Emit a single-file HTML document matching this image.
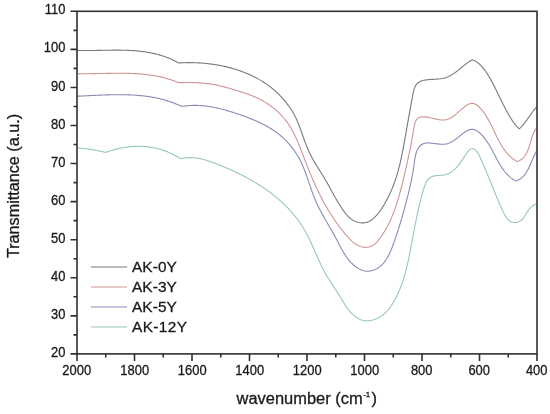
<!DOCTYPE html>
<html><head><meta charset="utf-8"><title>FTIR</title><style>html,body{margin:0;padding:0;background:#fff;}svg{display:block;}</style></head><body>
<svg width="550" height="414" viewBox="0 0 550 414" font-family="'Liberation Sans', Arial, sans-serif" fill="#1a1a1a"><style>text{stroke:#1a1a1a;stroke-width:0.3;}</style>
<path d="M77.00,147.80 L78.00,147.90 L79.00,148.00 L80.00,148.10 L81.00,148.21 L82.00,148.32 L83.00,148.44 L84.00,148.57 L85.00,148.69 L86.00,148.82 L87.00,148.96 L87.99,149.10 L88.99,149.24 L89.98,149.39 L90.98,149.55 L91.97,149.70 L92.97,149.87 L93.96,150.03 L94.95,150.21 L95.94,150.38 L96.93,150.56 L97.92,150.75 L98.91,150.94 L99.90,151.13 L100.88,151.33 L101.87,151.54 L102.85,151.75 L103.84,151.96 L104.82,152.18 L105.80,152.40 L106.75,152.05 L107.69,151.71 L108.65,151.39 L109.60,151.07 L110.56,150.76 L111.53,150.46 L112.49,150.17 L113.46,149.89 L114.43,149.62 L115.41,149.36 L116.39,149.10 L117.36,148.86 L118.35,148.63 L119.33,148.41 L120.32,148.20 L121.30,148.01 L122.29,147.82 L123.28,147.64 L124.28,147.47 L125.27,147.31 L126.27,147.17 L127.26,147.03 L128.26,146.91 L129.26,146.80 L130.26,146.70 L131.26,146.61 L132.25,146.53 L133.25,146.46 L134.25,146.40 L135.25,146.36 L136.25,146.33 L137.25,146.31 L138.25,146.30 L139.25,146.30 L140.25,146.32 L141.24,146.34 L142.24,146.38 L143.23,146.43 L144.23,146.50 L145.22,146.57 L146.21,146.66 L147.20,146.76 L148.18,146.88 L149.17,147.00 L150.15,147.14 L151.13,147.30 L152.11,147.46 L153.09,147.64 L154.06,147.83 L155.03,148.03 L156.00,148.25 L156.96,148.48 L157.93,148.72 L158.88,148.98 L159.84,149.24 L160.79,149.52 L161.74,149.81 L162.69,150.12 L163.63,150.44 L164.57,150.77 L165.50,151.11 L166.43,151.46 L167.36,151.83 L168.28,152.21 L169.20,152.60 L170.11,153.00 L171.02,153.42 L171.93,153.85 L172.83,154.29 L173.72,154.74 L174.61,155.21 L175.50,155.69 L176.38,156.17 L177.25,156.68 L178.12,157.19 L178.99,157.72 L179.85,158.25 L180.70,158.80 L181.74,158.55 L182.77,158.33 L183.80,158.14 L184.83,157.98 L185.85,157.85 L186.86,157.75 L187.87,157.68 L188.87,157.63 L189.87,157.60 L190.87,157.61 L191.86,157.63 L192.84,157.68 L193.82,157.75 L194.80,157.84 L195.78,157.96 L196.75,158.09 L197.72,158.24 L198.68,158.41 L199.64,158.59 L200.60,158.80 L201.56,159.01 L202.51,159.25 L203.46,159.49 L204.41,159.75 L205.35,160.02 L206.30,160.31 L207.24,160.60 L208.18,160.90 L209.12,161.22 L210.06,161.54 L210.99,161.86 L211.93,162.20 L212.86,162.53 L213.80,162.88 L214.73,163.22 L215.66,163.57 L216.59,163.93 L217.52,164.29 L218.45,164.65 L219.38,165.01 L220.31,165.38 L221.24,165.75 L222.17,166.13 L223.09,166.50 L224.02,166.89 L224.94,167.27 L225.86,167.66 L226.79,168.05 L227.71,168.45 L228.63,168.85 L229.54,169.26 L230.46,169.66 L231.37,170.08 L232.29,170.49 L233.20,170.91 L234.11,171.33 L235.02,171.76 L235.93,172.19 L236.83,172.62 L237.74,173.06 L238.64,173.50 L239.54,173.95 L240.44,174.40 L241.34,174.85 L242.23,175.31 L243.13,175.77 L244.02,176.24 L244.91,176.71 L245.79,177.18 L246.68,177.66 L247.56,178.14 L248.44,178.62 L249.32,179.11 L250.19,179.61 L251.07,180.10 L251.94,180.60 L252.81,181.11 L253.67,181.62 L254.54,182.13 L255.40,182.65 L256.25,183.17 L257.11,183.70 L257.96,184.23 L258.81,184.77 L259.66,185.30 L260.50,185.85 L261.34,186.40 L262.18,186.95 L263.01,187.50 L263.84,188.07 L264.66,188.63 L265.49,189.20 L266.31,189.77 L267.12,190.35 L267.93,190.94 L268.74,191.52 L269.55,192.12 L270.35,192.71 L271.14,193.31 L271.94,193.92 L272.73,194.53 L273.51,195.14 L274.29,195.76 L275.06,196.39 L275.84,197.02 L276.60,197.65 L277.36,198.29 L278.12,198.93 L278.87,199.58 L279.62,200.23 L280.36,200.89 L281.10,201.55 L281.84,202.22 L282.56,202.89 L283.29,203.57 L284.01,204.25 L284.72,204.94 L285.42,205.63 L286.13,206.33 L286.82,207.03 L287.51,207.74 L288.20,208.45 L288.88,209.17 L289.55,209.89 L290.22,210.62 L290.88,211.35 L291.54,212.09 L292.19,212.83 L292.83,213.58 L293.47,214.34 L294.10,215.09 L294.73,215.86 L295.35,216.63 L295.96,217.40 L296.57,218.18 L297.17,218.97 L297.76,219.76 L298.34,220.55 L298.92,221.36 L299.50,222.16 L300.06,222.98 L300.62,223.79 L301.17,224.62 L301.72,225.45 L302.25,226.28 L302.78,227.12 L303.31,227.97 L303.82,228.82 L304.33,229.68 L304.83,230.54 L305.32,231.41 L305.81,232.28 L306.29,233.16 L306.76,234.04 L307.23,234.93 L307.69,235.82 L308.14,236.72 L308.59,237.62 L309.04,238.52 L309.48,239.43 L309.92,240.34 L310.35,241.25 L310.78,242.17 L311.21,243.09 L311.63,244.01 L312.05,244.93 L312.47,245.86 L312.88,246.78 L313.30,247.71 L313.71,248.64 L314.12,249.57 L314.53,250.50 L314.94,251.43 L315.35,252.36 L315.76,253.29 L316.17,254.22 L316.57,255.15 L316.99,256.08 L317.40,257.01 L317.81,257.94 L318.23,258.86 L318.64,259.79 L319.06,260.71 L319.48,261.63 L319.91,262.55 L320.34,263.47 L320.77,264.38 L321.20,265.29 L321.64,266.20 L322.09,267.10 L322.54,268.00 L322.99,268.90 L323.45,269.79 L323.91,270.68 L324.39,271.57 L324.86,272.44 L325.35,273.32 L325.84,274.19 L326.33,275.05 L326.83,275.91 L327.34,276.77 L327.86,277.62 L328.37,278.47 L328.90,279.31 L329.42,280.16 L329.95,280.99 L330.48,281.83 L331.02,282.67 L331.56,283.50 L332.09,284.33 L332.64,285.16 L333.18,285.99 L333.72,286.82 L334.26,287.65 L334.81,288.48 L335.35,289.31 L335.89,290.14 L336.43,290.97 L336.97,291.80 L337.51,292.64 L338.04,293.47 L338.58,294.31 L339.11,295.15 L339.63,295.99 L340.15,296.84 L340.67,297.69 L341.19,298.54 L341.70,299.39 L342.21,300.25 L342.73,301.10 L343.24,301.95 L343.77,302.81 L344.29,303.65 L344.83,304.50 L345.37,305.34 L345.92,306.17 L346.49,307.00 L347.06,307.82 L347.66,308.63 L348.26,309.43 L348.89,310.22 L349.53,311.00 L350.19,311.77 L350.88,312.53 L351.58,313.27 L352.31,314.00 L353.05,314.70 L353.82,315.38 L354.61,316.03 L355.42,316.66 L356.24,317.25 L357.09,317.81 L357.95,318.32 L358.83,318.80 L359.73,319.23 L360.65,319.61 L361.58,319.95 L362.53,320.23 L363.49,320.45 L364.47,320.62 L365.46,320.73 L366.46,320.78 L367.47,320.79 L368.48,320.74 L369.49,320.64 L370.50,320.50 L371.51,320.31 L372.50,320.08 L373.49,319.82 L374.46,319.51 L375.41,319.17 L376.35,318.80 L377.26,318.39 L378.15,317.95 L379.02,317.49 L379.87,316.99 L380.70,316.47 L381.51,315.92 L382.30,315.35 L383.07,314.75 L383.82,314.13 L384.55,313.48 L385.27,312.82 L385.97,312.13 L386.65,311.42 L387.32,310.70 L387.97,309.96 L388.60,309.20 L389.22,308.42 L389.83,307.63 L390.42,306.83 L391.00,306.01 L391.56,305.19 L392.11,304.35 L392.65,303.50 L393.18,302.64 L393.69,301.78 L394.20,300.91 L394.69,300.03 L395.17,299.15 L395.64,298.26 L396.11,297.37 L396.56,296.48 L397.00,295.58 L397.44,294.68 L397.86,293.77 L398.28,292.86 L398.69,291.94 L399.09,291.03 L399.48,290.11 L399.86,289.18 L400.23,288.25 L400.60,287.32 L400.96,286.39 L401.31,285.45 L401.65,284.51 L401.98,283.57 L402.31,282.62 L402.63,281.67 L402.95,280.72 L403.26,279.77 L403.56,278.81 L403.85,277.85 L404.14,276.89 L404.43,275.93 L404.70,274.96 L404.98,274.00 L405.24,273.03 L405.51,272.06 L405.76,271.09 L406.01,270.12 L406.26,269.14 L406.50,268.17 L406.74,267.19 L406.97,266.21 L407.20,265.23 L407.43,264.26 L407.65,263.27 L407.87,262.29 L408.09,261.31 L408.30,260.33 L408.51,259.35 L408.72,258.37 L408.92,257.38 L409.12,256.40 L409.32,255.42 L409.52,254.44 L409.71,253.45 L409.91,252.47 L410.10,251.49 L410.29,250.51 L410.48,249.53 L410.67,248.55 L410.86,247.57 L411.04,246.59 L411.23,245.61 L411.41,244.63 L411.60,243.66 L411.78,242.68 L411.96,241.70 L412.14,240.73 L412.33,239.75 L412.51,238.78 L412.69,237.80 L412.87,236.83 L413.06,235.85 L413.24,234.88 L413.42,233.90 L413.60,232.93 L413.79,231.96 L413.97,230.98 L414.15,230.01 L414.34,229.03 L414.53,228.06 L414.71,227.09 L414.90,226.11 L415.09,225.14 L415.28,224.16 L415.47,223.19 L415.67,222.22 L415.86,221.24 L416.06,220.27 L416.26,219.29 L416.46,218.32 L416.66,217.34 L416.86,216.36 L417.07,215.39 L417.27,214.41 L417.48,213.43 L417.70,212.46 L417.91,211.48 L418.13,210.50 L418.35,209.52 L418.57,208.54 L418.80,207.56 L419.02,206.58 L419.26,205.59 L419.49,204.61 L419.73,203.63 L419.97,202.64 L420.21,201.66 L420.46,200.67 L420.71,199.69 L420.97,198.70 L421.23,197.71 L421.49,196.72 L421.76,195.73 L422.03,194.74 L422.30,193.75 L422.58,192.75 L422.86,191.76 L423.15,190.76 L423.44,189.76 L423.74,188.77 L424.05,187.78 L424.37,186.80 L424.71,185.84 L425.07,184.90 L425.45,183.98 L425.85,183.08 L426.28,182.22 L426.75,181.40 L427.25,180.61 L427.79,179.88 L428.36,179.19 L428.99,178.55 L429.66,177.97 L430.38,177.46 L431.15,177.01 L431.98,176.63 L432.87,176.33 L433.80,176.09 L434.79,175.90 L435.81,175.75 L436.86,175.64 L437.93,175.55 L439.02,175.47 L440.11,175.39 L441.20,175.31 L442.28,175.19 L443.35,175.05 L444.40,174.87 L445.41,174.63 L446.39,174.34 L447.35,174.01 L448.27,173.62 L449.17,173.20 L450.04,172.73 L450.88,172.22 L451.70,171.68 L452.49,171.11 L453.26,170.50 L454.01,169.87 L454.73,169.21 L455.43,168.52 L456.12,167.82 L456.78,167.10 L457.43,166.37 L458.05,165.62 L458.67,164.86 L459.27,164.08 L459.85,163.30 L460.43,162.50 L461.01,161.69 L461.57,160.87 L462.14,160.04 L462.70,159.20 L463.27,158.35 L463.84,157.49 L464.41,156.63 L464.99,155.75 L465.58,154.86 L466.18,153.97 L466.80,153.08 L467.43,152.20 L468.08,151.36 L468.75,150.60 L469.44,149.92 L470.15,149.37 L470.88,148.96 L471.65,148.73 L472.43,148.69 L473.24,148.84 L474.04,149.15 L474.79,149.59 L475.51,150.13 L476.18,150.76 L476.81,151.47 L477.40,152.26 L477.96,153.11 L478.49,154.02 L479.00,154.96 L479.48,155.94 L479.95,156.94 L480.39,157.96 L480.83,158.98 L481.26,159.99 L481.69,160.98 L482.11,161.96 L482.53,162.92 L482.94,163.86 L483.35,164.80 L483.76,165.72 L484.17,166.64 L484.57,167.56 L484.96,168.47 L485.35,169.38 L485.74,170.28 L486.13,171.19 L486.51,172.10 L486.89,173.00 L487.27,173.90 L487.64,174.80 L488.02,175.70 L488.39,176.60 L488.76,177.50 L489.12,178.40 L489.49,179.30 L489.86,180.20 L490.22,181.10 L490.58,182.00 L490.95,182.90 L491.31,183.80 L491.67,184.70 L492.04,185.60 L492.40,186.50 L492.77,187.41 L493.13,188.31 L493.50,189.22 L493.87,190.13 L494.24,191.04 L494.61,191.96 L494.98,192.87 L495.36,193.79 L495.73,194.71 L496.11,195.63 L496.50,196.56 L496.88,197.48 L497.27,198.42 L497.67,199.35 L498.06,200.29 L498.46,201.23 L498.87,202.18 L499.28,203.12 L499.69,204.08 L500.11,205.04 L500.54,206.00 L500.97,206.96 L501.40,207.94 L501.84,208.91 L502.29,209.89 L502.74,210.88 L503.21,211.86 L503.68,212.83 L504.17,213.78 L504.67,214.72 L505.19,215.62 L505.73,216.50 L506.29,217.34 L506.88,218.14 L507.49,218.88 L508.12,219.57 L508.79,220.21 L509.49,220.77 L510.22,221.27 L510.99,221.68 L511.80,222.01 L512.65,222.26 L513.52,222.42 L514.42,222.49 L515.34,222.47 L516.26,222.37 L517.18,222.19 L518.08,221.93 L518.97,221.58 L519.83,221.15 L520.65,220.65 L521.43,220.06 L522.16,219.40 L522.85,218.68 L523.49,217.89 L524.10,217.06 L524.69,216.19 L525.26,215.29 L525.81,214.38 L526.36,213.45 L526.91,212.53 L527.47,211.62 L528.04,210.73 L528.63,209.87 L529.24,209.04 L529.89,208.27 L530.58,207.56 L531.31,206.92 L532.09,206.34 L532.90,205.80 L533.73,205.28 L534.56,204.76 L535.39,204.23 L536.21,203.64 L537.00,203.00" fill="none" stroke="#96c6be" stroke-width="1.1" stroke-linejoin="round"/>
<path d="M77.00,96.20 L77.99,96.16 L78.98,96.12 L79.97,96.08 L80.96,96.03 L81.96,95.99 L82.95,95.94 L83.95,95.90 L84.94,95.85 L85.94,95.80 L86.94,95.75 L87.94,95.71 L88.94,95.66 L89.95,95.61 L90.95,95.56 L91.95,95.51 L92.96,95.46 L93.96,95.42 L94.97,95.37 L95.98,95.32 L96.99,95.28 L97.99,95.23 L99.00,95.19 L100.01,95.15 L101.02,95.10 L102.03,95.06 L103.04,95.02 L104.06,94.99 L105.07,94.95 L106.08,94.92 L107.09,94.88 L108.10,94.85 L109.12,94.83 L110.13,94.80 L111.14,94.78 L112.15,94.75 L113.17,94.74 L114.18,94.72 L115.19,94.71 L116.21,94.69 L117.22,94.69 L118.23,94.68 L119.24,94.68 L120.25,94.68 L121.27,94.69 L122.28,94.70 L123.29,94.71 L124.30,94.73 L125.31,94.75 L126.32,94.77 L127.33,94.80 L128.34,94.83 L129.35,94.87 L130.35,94.91 L131.36,94.96 L132.37,95.01 L133.37,95.07 L134.37,95.13 L135.38,95.19 L136.38,95.26 L137.38,95.34 L138.38,95.42 L139.38,95.51 L140.38,95.60 L141.38,95.70 L142.38,95.80 L143.37,95.91 L144.37,96.03 L145.36,96.15 L146.35,96.28 L147.34,96.41 L148.33,96.56 L149.32,96.70 L150.31,96.86 L151.29,97.02 L152.27,97.19 L153.26,97.37 L154.24,97.55 L155.21,97.74 L156.19,97.94 L157.17,98.14 L158.14,98.36 L159.11,98.58 L160.08,98.80 L161.05,99.04 L162.02,99.29 L162.98,99.54 L163.94,99.80 L164.90,100.07 L165.86,100.35 L166.82,100.64 L167.77,100.93 L168.72,101.24 L169.67,101.55 L170.62,101.87 L171.57,102.21 L172.51,102.55 L173.45,102.90 L174.39,103.26 L175.32,103.63 L176.26,104.01 L177.19,104.40 L178.11,104.80 L179.04,105.21 L179.96,105.63 L180.88,106.06 L181.80,106.50 L182.82,106.33 L183.83,106.17 L184.84,106.03 L185.85,105.91 L186.86,105.80 L187.87,105.70 L188.87,105.61 L189.87,105.54 L190.87,105.48 L191.87,105.44 L192.87,105.41 L193.87,105.39 L194.86,105.38 L195.85,105.38 L196.84,105.40 L197.83,105.43 L198.82,105.47 L199.81,105.52 L200.79,105.58 L201.77,105.65 L202.76,105.73 L203.74,105.83 L204.72,105.93 L205.69,106.04 L206.67,106.17 L207.65,106.30 L208.62,106.44 L209.59,106.59 L210.57,106.75 L211.54,106.92 L212.51,107.09 L213.48,107.28 L214.45,107.47 L215.42,107.67 L216.38,107.88 L217.35,108.09 L218.32,108.32 L219.28,108.54 L220.25,108.78 L221.21,109.02 L222.17,109.27 L223.14,109.52 L224.10,109.78 L225.06,110.05 L226.02,110.32 L226.98,110.59 L227.94,110.88 L228.90,111.16 L229.86,111.45 L230.82,111.74 L231.78,112.04 L232.74,112.34 L233.70,112.65 L234.66,112.96 L235.62,113.27 L236.58,113.58 L237.54,113.90 L238.50,114.22 L239.46,114.55 L240.41,114.88 L241.37,115.21 L242.33,115.54 L243.28,115.88 L244.24,116.22 L245.19,116.57 L246.14,116.92 L247.09,117.27 L248.04,117.63 L248.98,118.00 L249.93,118.37 L250.87,118.74 L251.81,119.12 L252.74,119.50 L253.67,119.89 L254.60,120.29 L255.53,120.69 L256.45,121.10 L257.37,121.51 L258.29,121.93 L259.20,122.35 L260.11,122.78 L261.01,123.22 L261.91,123.66 L262.81,124.11 L263.70,124.57 L264.59,125.03 L265.47,125.50 L266.34,125.98 L267.21,126.46 L268.08,126.96 L268.94,127.46 L269.79,127.97 L270.64,128.48 L271.48,129.01 L272.32,129.54 L273.15,130.08 L273.97,130.63 L274.79,131.19 L275.60,131.75 L276.40,132.33 L277.19,132.91 L277.98,133.50 L278.76,134.11 L279.53,134.72 L280.30,135.34 L281.05,135.97 L281.80,136.61 L282.54,137.26 L283.27,137.92 L284.00,138.59 L284.71,139.28 L285.42,139.97 L286.11,140.67 L286.80,141.38 L287.48,142.10 L288.15,142.83 L288.80,143.57 L289.46,144.32 L290.10,145.08 L290.73,145.85 L291.35,146.62 L291.96,147.41 L292.57,148.20 L293.16,149.00 L293.74,149.81 L294.32,150.62 L294.88,151.44 L295.44,152.27 L295.98,153.11 L296.52,153.95 L297.04,154.80 L297.56,155.66 L298.07,156.52 L298.56,157.39 L299.05,158.26 L299.52,159.14 L299.98,160.03 L300.44,160.92 L300.88,161.81 L301.32,162.71 L301.74,163.62 L302.15,164.52 L302.56,165.44 L302.96,166.35 L303.35,167.27 L303.73,168.20 L304.10,169.13 L304.47,170.06 L304.83,170.99 L305.19,171.93 L305.54,172.86 L305.89,173.80 L306.23,174.75 L306.56,175.69 L306.90,176.64 L307.23,177.59 L307.56,178.53 L307.88,179.48 L308.21,180.43 L308.53,181.39 L308.85,182.34 L309.17,183.29 L309.49,184.24 L309.82,185.19 L310.14,186.14 L310.46,187.09 L310.79,188.04 L311.12,188.99 L311.45,189.94 L311.78,190.88 L312.12,191.83 L312.46,192.77 L312.80,193.71 L313.15,194.65 L313.51,195.58 L313.87,196.51 L314.24,197.44 L314.61,198.37 L314.99,199.29 L315.38,200.21 L315.77,201.12 L316.18,202.03 L316.59,202.94 L317.00,203.85 L317.43,204.75 L317.86,205.65 L318.30,206.54 L318.74,207.43 L319.19,208.33 L319.64,209.21 L320.10,210.10 L320.56,210.98 L321.03,211.86 L321.50,212.74 L321.98,213.62 L322.46,214.49 L322.94,215.37 L323.43,216.24 L323.92,217.11 L324.41,217.98 L324.90,218.85 L325.40,219.72 L325.90,220.59 L326.40,221.46 L326.90,222.32 L327.40,223.19 L327.90,224.06 L328.41,224.92 L328.91,225.79 L329.41,226.66 L329.92,227.52 L330.42,228.39 L330.92,229.26 L331.42,230.13 L331.92,231.00 L332.42,231.87 L332.91,232.75 L333.41,233.62 L333.90,234.50 L334.39,235.38 L334.87,236.26 L335.35,237.14 L335.83,238.02 L336.30,238.91 L336.77,239.80 L337.24,240.69 L337.71,241.58 L338.17,242.47 L338.63,243.37 L339.09,244.26 L339.56,245.15 L340.02,246.04 L340.49,246.92 L340.96,247.81 L341.44,248.69 L341.92,249.56 L342.41,250.44 L342.91,251.30 L343.41,252.16 L343.92,253.02 L344.44,253.86 L344.98,254.70 L345.52,255.53 L346.08,256.35 L346.64,257.17 L347.23,257.97 L347.82,258.76 L348.44,259.54 L349.07,260.31 L349.71,261.07 L350.38,261.81 L351.06,262.54 L351.77,263.26 L352.49,263.96 L353.24,264.64 L354.01,265.31 L354.80,265.97 L355.62,266.60 L356.46,267.22 L357.32,267.80 L358.20,268.36 L359.09,268.88 L360.01,269.36 L360.94,269.79 L361.88,270.18 L362.84,270.51 L363.81,270.78 L364.78,270.99 L365.77,271.14 L366.76,271.21 L367.75,271.22 L368.74,271.17 L369.73,271.06 L370.70,270.90 L371.67,270.69 L372.62,270.43 L373.56,270.12 L374.47,269.77 L375.36,269.39 L376.22,268.97 L377.05,268.52 L377.86,268.04 L378.65,267.52 L379.41,266.97 L380.15,266.39 L380.86,265.79 L381.56,265.15 L382.23,264.49 L382.88,263.80 L383.51,263.09 L384.13,262.36 L384.72,261.60 L385.29,260.82 L385.85,260.02 L386.39,259.20 L386.92,258.37 L387.43,257.51 L387.92,256.64 L388.40,255.75 L388.87,254.85 L389.32,253.94 L389.76,253.01 L390.19,252.08 L390.61,251.13 L391.02,250.17 L391.42,249.21 L391.81,248.24 L392.19,247.26 L392.56,246.28 L392.93,245.29 L393.29,244.30 L393.65,243.31 L394.00,242.32 L394.34,241.33 L394.68,240.34 L395.02,239.35 L395.36,238.37 L395.69,237.39 L396.02,236.41 L396.34,235.43 L396.67,234.45 L396.99,233.48 L397.31,232.51 L397.62,231.54 L397.93,230.57 L398.24,229.61 L398.55,228.64 L398.86,227.68 L399.16,226.72 L399.46,225.76 L399.76,224.81 L400.05,223.85 L400.34,222.90 L400.63,221.94 L400.92,220.99 L401.20,220.04 L401.49,219.09 L401.77,218.14 L402.05,217.20 L402.32,216.25 L402.60,215.30 L402.87,214.36 L403.14,213.41 L403.40,212.47 L403.67,211.53 L403.93,210.58 L404.19,209.64 L404.45,208.70 L404.71,207.75 L404.96,206.81 L405.22,205.87 L405.47,204.92 L405.72,203.98 L405.96,203.04 L406.21,202.09 L406.45,201.15 L406.69,200.21 L406.94,199.26 L407.17,198.31 L407.41,197.37 L407.65,196.42 L407.88,195.47 L408.11,194.52 L408.34,193.57 L408.57,192.62 L408.80,191.67 L409.03,190.71 L409.25,189.76 L409.47,188.80 L409.70,187.84 L409.92,186.88 L410.14,185.92 L410.35,184.95 L410.57,183.99 L410.78,183.02 L410.99,182.04 L411.20,181.06 L411.40,180.08 L411.61,179.09 L411.80,178.10 L412.00,177.10 L412.19,176.10 L412.38,175.09 L412.57,174.08 L412.75,173.06 L412.93,172.03 L413.10,171.00 L413.27,169.95 L413.44,168.91 L413.60,167.85 L413.76,166.78 L413.91,165.71 L414.06,164.62 L414.20,163.54 L414.35,162.45 L414.50,161.36 L414.66,160.27 L414.83,159.19 L415.01,158.11 L415.21,157.05 L415.43,156.00 L415.66,154.97 L415.93,153.96 L416.21,152.97 L416.53,152.00 L416.88,151.07 L417.27,150.16 L417.69,149.29 L418.16,148.46 L418.67,147.66 L419.22,146.91 L419.82,146.21 L420.45,145.57 L421.12,145.00 L421.82,144.49 L422.56,144.06 L423.32,143.71 L424.12,143.43 L424.94,143.22 L425.79,143.07 L426.66,142.97 L427.56,142.92 L428.48,142.92 L429.41,142.95 L430.36,143.02 L431.33,143.11 L432.31,143.22 L433.31,143.35 L434.31,143.49 L435.32,143.64 L436.34,143.78 L437.36,143.91 L438.39,144.04 L439.42,144.14 L440.45,144.22 L441.48,144.27 L442.50,144.29 L443.52,144.26 L444.53,144.19 L445.53,144.07 L446.52,143.88 L447.50,143.64 L448.46,143.33 L449.41,142.96 L450.36,142.54 L451.28,142.06 L452.20,141.55 L453.11,140.99 L454.01,140.40 L454.89,139.78 L455.77,139.14 L456.64,138.48 L457.50,137.81 L458.35,137.13 L459.20,136.44 L460.04,135.76 L460.87,135.08 L461.70,134.42 L462.52,133.78 L463.34,133.15 L464.15,132.56 L464.96,132.00 L465.76,131.48 L466.56,131.00 L467.36,130.57 L468.16,130.19 L468.96,129.87 L469.75,129.62 L470.55,129.44 L471.35,129.33 L472.14,129.30 L472.94,129.35 L473.74,129.49 L474.54,129.72 L475.33,130.03 L476.13,130.41 L476.92,130.86 L477.70,131.37 L478.48,131.93 L479.24,132.55 L480.00,133.21 L480.75,133.91 L481.48,134.64 L482.19,135.40 L482.89,136.18 L483.57,136.98 L484.24,137.79 L484.88,138.60 L485.50,139.43 L486.11,140.26 L486.71,141.10 L487.28,141.95 L487.85,142.80 L488.40,143.66 L488.94,144.53 L489.46,145.40 L489.98,146.28 L490.49,147.16 L490.99,148.05 L491.48,148.93 L491.96,149.83 L492.44,150.72 L492.92,151.61 L493.39,152.51 L493.86,153.41 L494.33,154.31 L494.80,155.21 L495.27,156.11 L495.74,157.00 L496.21,157.90 L496.68,158.79 L497.16,159.68 L497.64,160.57 L498.13,161.46 L498.63,162.34 L499.14,163.22 L499.65,164.09 L500.17,164.95 L500.70,165.81 L501.24,166.65 L501.79,167.49 L502.35,168.32 L502.92,169.14 L503.50,169.95 L504.10,170.74 L504.70,171.52 L505.33,172.29 L505.96,173.05 L506.62,173.78 L507.28,174.50 L507.97,175.21 L508.67,175.89 L509.38,176.56 L510.12,177.20 L510.87,177.83 L511.64,178.43 L512.43,179.01 L513.24,179.57 L514.07,180.11 L514.93,180.62 L515.80,181.10 L516.83,180.73 L517.81,180.31 L518.74,179.85 L519.63,179.33 L520.48,178.77 L521.28,178.16 L522.05,177.52 L522.78,176.83 L523.48,176.11 L524.14,175.36 L524.78,174.57 L525.38,173.76 L525.96,172.92 L526.51,172.05 L527.05,171.17 L527.56,170.26 L528.05,169.33 L528.52,168.39 L528.98,167.44 L529.43,166.48 L529.87,165.50 L530.29,164.53 L530.71,163.54 L531.13,162.56 L531.54,161.58 L531.96,160.60 L532.37,159.62 L532.79,158.66 L533.21,157.70 L533.64,156.76 L534.07,155.83 L534.52,154.92 L534.98,154.03 L535.46,153.16 L535.95,152.31 L536.47,151.49 L537.00,150.70" fill="none" stroke="#8a8ab8" stroke-width="1.1" stroke-linejoin="round"/>
<path d="M77.00,73.60 L77.98,73.62 L78.96,73.65 L79.94,73.66 L80.93,73.68 L81.91,73.69 L82.90,73.70 L83.89,73.71 L84.88,73.71 L85.87,73.71 L86.87,73.71 L87.86,73.70 L88.86,73.70 L89.86,73.69 L90.86,73.68 L91.86,73.67 L92.86,73.66 L93.87,73.64 L94.87,73.63 L95.88,73.61 L96.89,73.59 L97.89,73.57 L98.90,73.55 L99.91,73.53 L100.92,73.51 L101.93,73.49 L102.95,73.47 L103.96,73.45 L104.97,73.43 L105.99,73.41 L107.00,73.39 L108.02,73.38 L109.03,73.36 L110.05,73.34 L111.07,73.33 L112.09,73.31 L113.10,73.30 L114.12,73.29 L115.14,73.28 L116.16,73.27 L117.18,73.26 L118.19,73.26 L119.21,73.26 L120.23,73.26 L121.25,73.26 L122.27,73.27 L123.29,73.28 L124.30,73.29 L125.32,73.30 L126.34,73.32 L127.36,73.34 L128.37,73.37 L129.39,73.39 L130.40,73.43 L131.42,73.46 L132.43,73.50 L133.45,73.55 L134.46,73.60 L135.47,73.65 L136.49,73.71 L137.50,73.77 L138.51,73.84 L139.52,73.91 L140.52,73.99 L141.53,74.08 L142.54,74.17 L143.54,74.26 L144.55,74.36 L145.55,74.47 L146.55,74.58 L147.55,74.70 L148.55,74.83 L149.55,74.96 L150.54,75.10 L151.54,75.24 L152.53,75.40 L153.52,75.56 L154.51,75.73 L155.50,75.90 L156.49,76.08 L157.47,76.27 L158.46,76.47 L159.44,76.68 L160.42,76.89 L161.39,77.11 L162.37,77.34 L163.34,77.58 L164.31,77.83 L165.28,78.09 L166.25,78.35 L167.21,78.63 L168.18,78.91 L169.14,79.21 L170.09,79.51 L171.05,79.83 L172.00,80.15 L172.95,80.48 L173.90,80.83 L174.85,81.18 L175.79,81.54 L176.73,81.92 L177.67,82.30 L178.60,82.70 L179.59,82.67 L180.58,82.65 L181.57,82.62 L182.56,82.60 L183.56,82.59 L184.56,82.57 L185.55,82.56 L186.56,82.56 L187.56,82.55 L188.56,82.56 L189.56,82.56 L190.57,82.57 L191.57,82.59 L192.58,82.61 L193.59,82.64 L194.59,82.67 L195.60,82.70 L196.60,82.75 L197.61,82.79 L198.62,82.85 L199.62,82.91 L200.63,82.98 L201.63,83.05 L202.63,83.13 L203.64,83.22 L204.64,83.31 L205.63,83.42 L206.63,83.53 L207.63,83.64 L208.62,83.77 L209.61,83.90 L210.60,84.05 L211.59,84.20 L212.58,84.36 L213.56,84.53 L214.54,84.71 L215.52,84.89 L216.49,85.09 L217.47,85.29 L218.44,85.50 L219.41,85.71 L220.38,85.93 L221.34,86.16 L222.31,86.40 L223.27,86.64 L224.24,86.89 L225.20,87.14 L226.16,87.40 L227.12,87.66 L228.08,87.93 L229.04,88.20 L230.00,88.47 L230.95,88.75 L231.91,89.03 L232.87,89.32 L233.83,89.60 L234.79,89.89 L235.75,90.19 L236.70,90.48 L237.66,90.78 L238.62,91.08 L239.58,91.38 L240.54,91.68 L241.50,91.99 L242.45,92.30 L243.41,92.62 L244.36,92.94 L245.32,93.27 L246.27,93.60 L247.21,93.93 L248.16,94.28 L249.10,94.62 L250.05,94.98 L250.98,95.34 L251.92,95.71 L252.85,96.09 L253.78,96.48 L254.70,96.87 L255.62,97.27 L256.53,97.69 L257.44,98.11 L258.35,98.54 L259.25,98.98 L260.14,99.43 L261.03,99.90 L261.92,100.37 L262.79,100.85 L263.67,101.35 L264.53,101.86 L265.39,102.37 L266.24,102.90 L267.09,103.44 L267.92,103.98 L268.76,104.54 L269.58,105.11 L270.39,105.69 L271.20,106.28 L272.00,106.88 L272.80,107.48 L273.58,108.10 L274.36,108.73 L275.12,109.37 L275.88,110.01 L276.63,110.67 L277.38,111.34 L278.11,112.01 L278.83,112.70 L279.54,113.39 L280.25,114.10 L280.94,114.81 L281.62,115.53 L282.30,116.26 L282.96,117.00 L283.61,117.75 L284.25,118.51 L284.88,119.27 L285.50,120.05 L286.11,120.83 L286.71,121.62 L287.29,122.43 L287.87,123.23 L288.43,124.05 L288.98,124.88 L289.52,125.71 L290.05,126.55 L290.57,127.40 L291.08,128.25 L291.58,129.11 L292.06,129.98 L292.55,130.85 L293.02,131.73 L293.48,132.62 L293.94,133.51 L294.38,134.40 L294.83,135.30 L295.26,136.21 L295.69,137.12 L296.11,138.03 L296.52,138.95 L296.93,139.87 L297.33,140.80 L297.73,141.73 L298.12,142.66 L298.51,143.59 L298.89,144.53 L299.27,145.47 L299.65,146.41 L300.02,147.35 L300.39,148.29 L300.76,149.24 L301.13,150.18 L301.49,151.13 L301.85,152.08 L302.22,153.03 L302.58,153.97 L302.93,154.92 L303.29,155.87 L303.65,156.81 L304.01,157.76 L304.37,158.70 L304.73,159.64 L305.10,160.58 L305.46,161.52 L305.82,162.46 L306.19,163.40 L306.55,164.33 L306.92,165.27 L307.29,166.20 L307.66,167.13 L308.03,168.06 L308.40,168.99 L308.77,169.91 L309.15,170.84 L309.53,171.76 L309.91,172.68 L310.29,173.60 L310.67,174.52 L311.05,175.44 L311.44,176.36 L311.83,177.27 L312.22,178.19 L312.61,179.10 L313.00,180.01 L313.40,180.92 L313.80,181.83 L314.20,182.73 L314.61,183.64 L315.01,184.54 L315.42,185.44 L315.84,186.34 L316.25,187.24 L316.67,188.13 L317.09,189.03 L317.51,189.92 L317.94,190.82 L318.37,191.71 L318.80,192.59 L319.24,193.48 L319.68,194.37 L320.12,195.25 L320.57,196.13 L321.02,197.01 L321.47,197.89 L321.93,198.77 L322.39,199.65 L322.85,200.52 L323.32,201.39 L323.79,202.26 L324.27,203.13 L324.75,204.00 L325.23,204.86 L325.72,205.73 L326.21,206.59 L326.71,207.45 L327.21,208.31 L327.71,209.17 L328.22,210.02 L328.74,210.87 L329.25,211.73 L329.78,212.58 L330.31,213.42 L330.84,214.27 L331.38,215.12 L331.92,215.96 L332.47,216.80 L333.02,217.64 L333.58,218.48 L334.14,219.31 L334.71,220.15 L335.28,220.98 L335.86,221.81 L336.44,222.64 L337.03,223.46 L337.63,224.29 L338.23,225.11 L338.84,225.93 L339.45,226.75 L340.07,227.57 L340.69,228.38 L341.32,229.20 L341.96,230.01 L342.60,230.82 L343.25,231.62 L343.91,232.43 L344.57,233.23 L345.23,234.04 L345.91,234.84 L346.59,235.63 L347.28,236.42 L347.97,237.20 L348.68,237.96 L349.39,238.72 L350.11,239.45 L350.84,240.17 L351.58,240.87 L352.33,241.55 L353.09,242.20 L353.86,242.82 L354.64,243.41 L355.43,243.97 L356.24,244.49 L357.05,244.98 L357.88,245.43 L358.72,245.84 L359.58,246.20 L360.45,246.52 L361.33,246.79 L362.23,247.00 L363.15,247.17 L364.07,247.28 L365.02,247.33 L365.98,247.32 L366.94,247.26 L367.91,247.13 L368.88,246.94 L369.83,246.69 L370.77,246.38 L371.69,246.01 L372.59,245.58 L373.45,245.09 L374.27,244.53 L375.04,243.92 L375.78,243.25 L376.47,242.53 L377.14,241.78 L377.79,241.00 L378.42,240.21 L379.04,239.42 L379.65,238.62 L380.25,237.81 L380.84,236.99 L381.42,236.17 L381.99,235.34 L382.55,234.51 L383.10,233.67 L383.64,232.82 L384.17,231.97 L384.69,231.11 L385.20,230.25 L385.71,229.38 L386.20,228.51 L386.69,227.63 L387.17,226.75 L387.63,225.86 L388.09,224.97 L388.55,224.07 L388.99,223.17 L389.43,222.27 L389.86,221.36 L390.28,220.45 L390.69,219.54 L391.10,218.62 L391.50,217.70 L391.89,216.78 L392.27,215.86 L392.65,214.93 L393.02,214.00 L393.39,213.07 L393.75,212.13 L394.10,211.20 L394.45,210.26 L394.79,209.32 L395.12,208.37 L395.45,207.43 L395.78,206.48 L396.10,205.53 L396.41,204.58 L396.72,203.63 L397.03,202.68 L397.33,201.73 L397.62,200.77 L397.91,199.81 L398.20,198.85 L398.48,197.90 L398.76,196.94 L399.04,195.97 L399.31,195.01 L399.58,194.05 L399.84,193.09 L400.10,192.12 L400.36,191.16 L400.62,190.20 L400.87,189.23 L401.12,188.27 L401.37,187.30 L401.61,186.34 L401.86,185.37 L402.10,184.40 L402.34,183.44 L402.58,182.48 L402.81,181.51 L403.05,180.55 L403.28,179.58 L403.52,178.62 L403.75,177.66 L403.98,176.70 L404.21,175.73 L404.44,174.77 L404.67,173.81 L404.89,172.85 L405.12,171.89 L405.34,170.93 L405.56,169.96 L405.79,169.00 L406.01,168.04 L406.23,167.08 L406.44,166.11 L406.66,165.15 L406.88,164.18 L407.09,163.22 L407.31,162.25 L407.52,161.28 L407.73,160.31 L407.94,159.34 L408.15,158.37 L408.36,157.39 L408.56,156.42 L408.77,155.44 L408.97,154.46 L409.18,153.48 L409.38,152.50 L409.58,151.52 L409.78,150.53 L409.98,149.54 L410.17,148.55 L410.37,147.56 L410.57,146.56 L410.76,145.57 L410.95,144.56 L411.14,143.56 L411.33,142.56 L411.52,141.55 L411.71,140.54 L411.90,139.52 L412.08,138.50 L412.27,137.48 L412.45,136.46 L412.63,135.43 L412.81,134.40 L412.99,133.37 L413.17,132.33 L413.35,131.29 L413.52,130.24 L413.70,129.19 L413.87,128.14 L414.05,127.09 L414.25,126.06 L414.46,125.05 L414.70,124.07 L414.97,123.12 L415.27,122.22 L415.62,121.36 L416.02,120.57 L416.47,119.84 L416.98,119.18 L417.55,118.60 L418.20,118.12 L418.92,117.72 L419.70,117.40 L420.54,117.16 L421.42,116.99 L422.33,116.88 L423.27,116.84 L424.23,116.85 L425.20,116.90 L426.17,117.00 L427.15,117.13 L428.14,117.30 L429.13,117.49 L430.13,117.71 L431.13,117.94 L432.13,118.18 L433.13,118.42 L434.14,118.67 L435.15,118.91 L436.15,119.14 L437.16,119.36 L438.16,119.55 L439.16,119.72 L440.16,119.86 L441.15,119.96 L442.14,120.02 L443.12,120.03 L444.10,119.99 L445.07,119.90 L446.03,119.74 L446.98,119.52 L447.93,119.22 L448.86,118.85 L449.79,118.42 L450.70,117.94 L451.61,117.40 L452.51,116.82 L453.41,116.20 L454.29,115.54 L455.17,114.85 L456.04,114.14 L456.91,113.41 L457.76,112.66 L458.61,111.91 L459.46,111.16 L460.29,110.41 L461.13,109.67 L461.95,108.95 L462.77,108.24 L463.59,107.56 L464.40,106.92 L465.20,106.31 L466.01,105.74 L466.80,105.22 L467.60,104.75 L468.39,104.34 L469.17,104.00 L469.95,103.73 L470.73,103.53 L471.51,103.41 L472.28,103.38 L473.05,103.44 L473.82,103.60 L474.59,103.84 L475.35,104.16 L476.10,104.56 L476.85,105.03 L477.59,105.57 L478.32,106.17 L479.04,106.82 L479.76,107.51 L480.46,108.26 L481.15,109.03 L481.83,109.84 L482.49,110.68 L483.14,111.54 L483.77,112.41 L484.39,113.29 L484.98,114.17 L485.57,115.06 L486.13,115.94 L486.68,116.83 L487.21,117.72 L487.73,118.60 L488.24,119.49 L488.73,120.38 L489.22,121.27 L489.69,122.16 L490.15,123.05 L490.61,123.94 L491.06,124.83 L491.50,125.72 L491.94,126.61 L492.37,127.50 L492.80,128.39 L493.22,129.28 L493.64,130.17 L494.07,131.07 L494.49,131.96 L494.91,132.85 L495.34,133.74 L495.77,134.63 L496.20,135.53 L496.64,136.42 L497.08,137.31 L497.53,138.20 L497.99,139.09 L498.45,139.98 L498.93,140.88 L499.42,141.77 L499.91,142.66 L500.42,143.54 L500.94,144.42 L501.46,145.30 L502.00,146.17 L502.56,147.04 L503.12,147.89 L503.70,148.74 L504.28,149.58 L504.88,150.40 L505.50,151.21 L506.12,152.01 L506.76,152.79 L507.41,153.56 L508.08,154.31 L508.76,155.04 L509.45,155.75 L510.16,156.43 L510.88,157.10 L511.62,157.74 L512.37,158.36 L513.14,158.96 L513.92,159.52 L514.71,160.06 L515.53,160.57 L516.36,161.05 L517.20,161.50 L518.22,161.17 L519.19,160.77 L520.09,160.32 L520.95,159.81 L521.75,159.24 L522.50,158.63 L523.21,157.96 L523.87,157.26 L524.49,156.51 L525.07,155.72 L525.61,154.89 L526.12,154.03 L526.60,153.14 L527.05,152.22 L527.48,151.28 L527.88,150.31 L528.26,149.32 L528.62,148.32 L528.96,147.30 L529.29,146.27 L529.61,145.23 L529.92,144.19 L530.23,143.14 L530.53,142.10 L530.83,141.05 L531.14,140.01 L531.44,138.98 L531.76,137.96 L532.08,136.96 L532.42,135.97 L532.77,135.00 L533.14,134.05 L533.52,133.12 L533.93,132.23 L534.37,131.37 L534.83,130.53 L535.32,129.74 L535.85,128.98 L536.40,128.27 L537.00,127.60" fill="none" stroke="#cf9494" stroke-width="1.1" stroke-linejoin="round"/>
<path d="M77.00,50.40 L77.98,50.43 L78.96,50.45 L79.94,50.47 L80.93,50.49 L81.91,50.50 L82.90,50.51 L83.89,50.52 L84.89,50.52 L85.88,50.53 L86.88,50.52 L87.88,50.52 L88.88,50.51 L89.88,50.51 L90.88,50.50 L91.88,50.49 L92.89,50.47 L93.90,50.46 L94.90,50.44 L95.91,50.43 L96.92,50.41 L97.93,50.39 L98.95,50.37 L99.96,50.35 L100.97,50.34 L101.99,50.32 L103.00,50.30 L104.02,50.28 L105.04,50.26 L106.05,50.24 L107.07,50.23 L108.09,50.21 L109.11,50.20 L110.13,50.19 L111.15,50.18 L112.17,50.17 L113.19,50.16 L114.21,50.15 L115.23,50.15 L116.25,50.15 L117.27,50.15 L118.29,50.16 L119.30,50.16 L120.32,50.17 L121.34,50.19 L122.36,50.21 L123.38,50.23 L124.39,50.25 L125.41,50.28 L126.43,50.31 L127.44,50.35 L128.46,50.39 L129.47,50.44 L130.48,50.49 L131.49,50.55 L132.50,50.61 L133.51,50.67 L134.52,50.75 L135.53,50.82 L136.54,50.91 L137.54,51.00 L138.54,51.09 L139.54,51.20 L140.54,51.31 L141.54,51.42 L142.54,51.54 L143.54,51.67 L144.53,51.81 L145.52,51.95 L146.51,52.11 L147.50,52.27 L148.48,52.43 L149.47,52.61 L150.45,52.79 L151.43,52.99 L152.41,53.19 L153.38,53.40 L154.35,53.61 L155.32,53.84 L156.29,54.08 L157.26,54.33 L158.22,54.58 L159.18,54.85 L160.13,55.12 L161.09,55.41 L162.04,55.71 L162.99,56.01 L163.93,56.33 L164.87,56.66 L165.81,57.00 L166.75,57.35 L167.68,57.71 L168.61,58.08 L169.54,58.47 L170.46,58.87 L171.38,59.27 L172.30,59.70 L173.21,60.13 L174.12,60.57 L175.02,61.03 L175.92,61.51 L176.82,61.99 L177.71,62.49 L178.60,63.00 L179.58,62.94 L180.56,62.88 L181.54,62.83 L182.52,62.79 L183.51,62.75 L184.50,62.72 L185.49,62.69 L186.48,62.67 L187.48,62.65 L188.47,62.64 L189.47,62.64 L190.47,62.64 L191.47,62.65 L192.47,62.66 L193.47,62.68 L194.47,62.70 L195.48,62.74 L196.48,62.77 L197.49,62.82 L198.49,62.87 L199.50,62.92 L200.51,62.99 L201.52,63.05 L202.52,63.13 L203.53,63.21 L204.54,63.30 L205.55,63.39 L206.56,63.49 L207.57,63.59 L208.58,63.71 L209.59,63.83 L210.59,63.95 L211.60,64.08 L212.61,64.22 L213.61,64.37 L214.62,64.52 L215.62,64.68 L216.63,64.84 L217.63,65.01 L218.63,65.19 L219.63,65.38 L220.63,65.57 L221.63,65.77 L222.62,65.97 L223.62,66.18 L224.61,66.40 L225.60,66.63 L226.59,66.86 L227.58,67.10 L228.57,67.35 L229.55,67.60 L230.53,67.86 L231.51,68.13 L232.48,68.41 L233.46,68.69 L234.43,68.98 L235.40,69.27 L236.36,69.58 L237.33,69.89 L238.29,70.21 L239.25,70.53 L240.20,70.87 L241.15,71.21 L242.10,71.55 L243.04,71.91 L243.98,72.27 L244.92,72.64 L245.85,73.02 L246.78,73.40 L247.71,73.80 L248.63,74.20 L249.55,74.61 L250.46,75.02 L251.37,75.45 L252.28,75.88 L253.18,76.32 L254.07,76.76 L254.97,77.22 L255.85,77.68 L256.74,78.15 L257.61,78.63 L258.49,79.11 L259.35,79.61 L260.22,80.11 L261.07,80.62 L261.92,81.14 L262.77,81.66 L263.61,82.20 L264.45,82.74 L265.28,83.29 L266.10,83.85 L266.92,84.42 L267.73,84.99 L268.54,85.58 L269.34,86.17 L270.13,86.77 L270.92,87.38 L271.70,87.99 L272.48,88.62 L273.25,89.25 L274.01,89.90 L274.76,90.55 L275.51,91.21 L276.25,91.87 L276.99,92.55 L277.71,93.24 L278.43,93.93 L279.14,94.63 L279.85,95.34 L280.55,96.06 L281.24,96.79 L281.92,97.53 L282.59,98.28 L283.26,99.03 L283.92,99.80 L284.57,100.57 L285.21,101.35 L285.85,102.14 L286.47,102.94 L287.09,103.75 L287.70,104.57 L288.30,105.40 L288.92,106.21 L289.52,107.02 L290.11,107.84 L290.68,108.67 L291.24,109.51 L291.77,110.35 L292.30,111.20 L292.81,112.06 L293.30,112.93 L293.79,113.80 L294.26,114.68 L294.71,115.56 L295.16,116.45 L295.60,117.34 L296.02,118.24 L296.44,119.15 L296.84,120.05 L297.24,120.97 L297.63,121.88 L298.01,122.80 L298.38,123.73 L298.75,124.66 L299.11,125.59 L299.47,126.52 L299.82,127.45 L300.17,128.39 L300.51,129.33 L300.85,130.27 L301.19,131.21 L301.52,132.16 L301.86,133.10 L302.19,134.05 L302.52,134.99 L302.85,135.94 L303.19,136.88 L303.52,137.83 L303.85,138.77 L304.19,139.72 L304.53,140.66 L304.88,141.60 L305.23,142.54 L305.58,143.48 L305.94,144.41 L306.30,145.34 L306.67,146.27 L307.05,147.20 L307.43,148.13 L307.82,149.05 L308.22,149.96 L308.63,150.87 L309.05,151.78 L309.47,152.69 L309.91,153.59 L310.36,154.48 L310.81,155.37 L311.28,156.26 L311.75,157.15 L312.23,158.03 L312.71,158.90 L313.20,159.78 L313.70,160.65 L314.20,161.52 L314.71,162.38 L315.22,163.25 L315.74,164.11 L316.26,164.97 L316.78,165.83 L317.30,166.68 L317.83,167.54 L318.36,168.39 L318.89,169.24 L319.42,170.10 L319.95,170.95 L320.48,171.80 L321.01,172.65 L321.54,173.50 L322.06,174.35 L322.59,175.20 L323.11,176.05 L323.63,176.90 L324.15,177.75 L324.66,178.60 L325.17,179.46 L325.67,180.31 L326.16,181.17 L326.66,182.02 L327.15,182.88 L327.63,183.74 L328.11,184.60 L328.59,185.47 L329.07,186.33 L329.54,187.19 L330.02,188.06 L330.49,188.92 L330.96,189.79 L331.43,190.65 L331.91,191.52 L332.38,192.38 L332.85,193.25 L333.33,194.11 L333.81,194.98 L334.29,195.85 L334.78,196.71 L335.26,197.58 L335.76,198.44 L336.25,199.31 L336.75,200.17 L337.26,201.04 L337.77,201.90 L338.29,202.76 L338.82,203.62 L339.35,204.48 L339.89,205.34 L340.44,206.20 L341.00,207.05 L341.57,207.91 L342.14,208.76 L342.73,209.61 L343.32,210.46 L343.93,211.31 L344.55,212.15 L345.19,212.97 L345.84,213.79 L346.50,214.58 L347.19,215.36 L347.89,216.11 L348.61,216.84 L349.35,217.54 L350.11,218.20 L350.89,218.83 L351.70,219.42 L352.53,219.97 L353.39,220.48 L354.28,220.94 L355.18,221.35 L356.10,221.72 L357.03,222.04 L357.97,222.31 L358.92,222.53 L359.88,222.70 L360.83,222.81 L361.78,222.88 L362.73,222.89 L363.67,222.84 L364.60,222.74 L365.51,222.59 L366.40,222.37 L367.27,222.11 L368.13,221.79 L368.97,221.42 L369.79,221.00 L370.59,220.53 L371.38,220.03 L372.16,219.48 L372.91,218.89 L373.65,218.27 L374.38,217.61 L375.09,216.93 L375.79,216.21 L376.47,215.47 L377.14,214.70 L377.80,213.91 L378.44,213.10 L379.07,212.27 L379.69,211.43 L380.30,210.58 L380.89,209.71 L381.48,208.84 L382.05,207.96 L382.62,207.08 L383.17,206.20 L383.72,205.31 L384.25,204.43 L384.77,203.54 L385.29,202.64 L385.79,201.75 L386.29,200.85 L386.78,199.96 L387.25,199.06 L387.72,198.16 L388.18,197.25 L388.63,196.35 L389.08,195.44 L389.51,194.53 L389.94,193.62 L390.36,192.70 L390.77,191.79 L391.17,190.87 L391.56,189.95 L391.95,189.03 L392.33,188.11 L392.70,187.19 L393.07,186.26 L393.42,185.33 L393.78,184.40 L394.12,183.47 L394.46,182.54 L394.79,181.61 L395.11,180.67 L395.43,179.73 L395.74,178.80 L396.05,177.86 L396.35,176.91 L396.64,175.97 L396.93,175.03 L397.22,174.08 L397.49,173.13 L397.77,172.18 L398.03,171.23 L398.30,170.28 L398.56,169.33 L398.81,168.37 L399.06,167.42 L399.30,166.46 L399.54,165.50 L399.78,164.54 L400.01,163.58 L400.24,162.62 L400.46,161.66 L400.68,160.69 L400.90,159.73 L401.11,158.76 L401.32,157.80 L401.53,156.83 L401.73,155.86 L401.93,154.89 L402.13,153.92 L402.33,152.94 L402.52,151.97 L402.71,150.99 L402.90,150.02 L403.08,149.04 L403.27,148.07 L403.45,147.09 L403.63,146.11 L403.81,145.13 L403.99,144.15 L404.17,143.17 L404.34,142.18 L404.52,141.20 L404.69,140.22 L404.87,139.23 L405.04,138.25 L405.21,137.26 L405.38,136.28 L405.55,135.29 L405.72,134.30 L405.90,133.32 L406.07,132.33 L406.24,131.34 L406.41,130.35 L406.58,129.36 L406.76,128.37 L406.93,127.38 L407.10,126.38 L407.28,125.39 L407.45,124.40 L407.63,123.40 L407.80,122.41 L407.98,121.42 L408.15,120.42 L408.33,119.42 L408.51,118.43 L408.69,117.43 L408.87,116.43 L409.04,115.43 L409.22,114.43 L409.40,113.43 L409.58,112.42 L409.77,111.42 L409.95,110.42 L410.13,109.41 L410.31,108.41 L410.50,107.40 L410.68,106.39 L410.87,105.38 L411.05,104.37 L411.24,103.36 L411.43,102.35 L411.62,101.33 L411.80,100.32 L411.99,99.30 L412.18,98.29 L412.38,97.27 L412.57,96.25 L412.76,95.23 L412.95,94.21 L413.16,93.19 L413.37,92.19 L413.59,91.20 L413.84,90.23 L414.10,89.29 L414.40,88.37 L414.72,87.49 L415.08,86.65 L415.48,85.85 L415.92,85.11 L416.41,84.41 L416.94,83.78 L417.53,83.20 L418.17,82.68 L418.85,82.21 L419.58,81.79 L420.34,81.42 L421.14,81.09 L421.97,80.80 L422.84,80.55 L423.73,80.33 L424.65,80.14 L425.60,79.98 L426.56,79.84 L427.54,79.73 L428.54,79.63 L429.55,79.55 L430.57,79.48 L431.60,79.41 L432.64,79.36 L433.69,79.30 L434.73,79.24 L435.78,79.18 L436.83,79.11 L437.88,79.03 L438.92,78.93 L439.95,78.82 L440.98,78.68 L442.00,78.52 L443.00,78.33 L443.99,78.11 L444.97,77.85 L445.92,77.56 L446.86,77.23 L447.78,76.86 L448.68,76.46 L449.57,76.03 L450.45,75.58 L451.31,75.09 L452.16,74.58 L453.00,74.05 L453.83,73.49 L454.65,72.92 L455.47,72.33 L456.27,71.73 L457.07,71.11 L457.86,70.48 L458.65,69.85 L459.44,69.21 L460.22,68.56 L461.01,67.92 L461.79,67.27 L462.57,66.62 L463.36,65.98 L464.15,65.35 L464.94,64.72 L465.74,64.11 L466.54,63.50 L467.35,62.91 L468.17,62.34 L468.99,61.79 L469.83,61.25 L470.67,60.74 L471.53,60.26 L472.40,59.80 L473.36,60.18 L474.29,60.61 L475.18,61.07 L476.04,61.57 L476.87,62.10 L477.67,62.66 L478.44,63.25 L479.19,63.87 L479.91,64.52 L480.61,65.19 L481.29,65.89 L481.95,66.60 L482.59,67.34 L483.22,68.09 L483.83,68.86 L484.42,69.65 L485.00,70.45 L485.57,71.25 L486.13,72.07 L486.68,72.90 L487.22,73.73 L487.76,74.57 L488.29,75.41 L488.80,76.26 L489.32,77.12 L489.82,77.98 L490.32,78.85 L490.82,79.73 L491.30,80.61 L491.79,81.49 L492.27,82.38 L492.74,83.27 L493.21,84.16 L493.67,85.06 L494.13,85.96 L494.59,86.87 L495.04,87.77 L495.50,88.68 L495.95,89.59 L496.39,90.51 L496.84,91.42 L497.28,92.33 L497.73,93.25 L498.17,94.16 L498.61,95.08 L499.06,95.99 L499.50,96.90 L499.94,97.82 L500.39,98.73 L500.83,99.64 L501.28,100.55 L501.73,101.46 L502.18,102.36 L502.63,103.27 L503.08,104.17 L503.54,105.07 L504.00,105.96 L504.46,106.86 L504.92,107.75 L505.39,108.64 L505.86,109.52 L506.33,110.41 L506.81,111.29 L507.29,112.16 L507.78,113.03 L508.27,113.90 L508.76,114.77 L509.26,115.63 L509.76,116.48 L510.27,117.34 L510.78,118.18 L511.31,119.02 L511.84,119.85 L512.38,120.68 L512.93,121.49 L513.49,122.29 L514.07,123.08 L514.66,123.85 L515.26,124.61 L515.89,125.36 L516.53,126.09 L517.19,126.79 L517.87,127.48 L518.57,128.15 L519.30,128.80 L520.04,128.10 L520.77,127.38 L521.47,126.65 L522.16,125.90 L522.83,125.14 L523.49,124.36 L524.13,123.57 L524.76,122.78 L525.38,121.97 L525.99,121.16 L526.59,120.34 L527.18,119.51 L527.78,118.68 L528.36,117.85 L528.95,117.01 L529.53,116.18 L530.12,115.34 L530.70,114.51 L531.29,113.68 L531.89,112.86 L532.49,112.04 L533.10,111.23 L533.72,110.43 L534.35,109.64 L534.99,108.86 L535.64,108.09 L536.31,107.34 L537.00,106.60" fill="none" stroke="#7a7a7a" stroke-width="1.1" stroke-linejoin="round"/>
<rect x="77" y="11.3" width="460" height="342.59999999999997" fill="none" stroke="#303030" stroke-width="1.6"/>
<path d="M70.50,353.90H77.00M73.50,334.87H77.00M70.50,315.83H77.00M73.50,296.80H77.00M70.50,277.77H77.00M73.50,258.73H77.00M70.50,239.70H77.00M73.50,220.67H77.00M70.50,201.63H77.00M73.50,182.60H77.00M70.50,163.57H77.00M73.50,144.53H77.00M70.50,125.50H77.00M73.50,106.47H77.00M70.50,87.43H77.00M73.50,68.40H77.00M70.50,49.37H77.00M73.50,30.33H77.00M70.50,11.30H77.00M77.00,353.90V360.90M105.75,353.90V357.40M134.50,353.90V360.90M163.25,353.90V357.40M192.00,353.90V360.90M220.75,353.90V357.40M249.50,353.90V360.90M278.25,353.90V357.40M307.00,353.90V360.90M335.75,353.90V357.40M364.50,353.90V360.90M393.25,353.90V357.40M422.00,353.90V360.90M450.75,353.90V357.40M479.50,353.90V360.90M508.25,353.90V357.40M537.00,353.90V360.90" stroke="#303030" stroke-width="1.6" fill="none"/>
<text transform="translate(65.40,357.00) scale(0.93,1)" text-anchor="end" font-size="13.9">20</text>
<text transform="translate(65.40,318.93) scale(0.93,1)" text-anchor="end" font-size="13.9">30</text>
<text transform="translate(65.40,280.87) scale(0.93,1)" text-anchor="end" font-size="13.9">40</text>
<text transform="translate(65.40,242.80) scale(0.93,1)" text-anchor="end" font-size="13.9">50</text>
<text transform="translate(65.40,204.73) scale(0.93,1)" text-anchor="end" font-size="13.9">60</text>
<text transform="translate(65.40,166.67) scale(0.93,1)" text-anchor="end" font-size="13.9">70</text>
<text transform="translate(65.40,128.60) scale(0.93,1)" text-anchor="end" font-size="13.9">80</text>
<text transform="translate(65.40,90.53) scale(0.93,1)" text-anchor="end" font-size="13.9">90</text>
<text transform="translate(65.40,52.47) scale(0.93,1)" text-anchor="end" font-size="13.9">100</text>
<text transform="translate(65.40,14.40) scale(0.93,1)" text-anchor="end" font-size="13.9">110</text>
<text transform="translate(76.70,375.10) scale(0.93,1)" text-anchor="middle" font-size="13.9">2000</text>
<text transform="translate(134.70,375.10) scale(0.93,1)" text-anchor="middle" font-size="13.9">1800</text>
<text transform="translate(192.20,375.10) scale(0.93,1)" text-anchor="middle" font-size="13.9">1600</text>
<text transform="translate(249.70,375.10) scale(0.93,1)" text-anchor="middle" font-size="13.9">1400</text>
<text transform="translate(307.20,375.10) scale(0.93,1)" text-anchor="middle" font-size="13.9">1200</text>
<text transform="translate(364.70,375.10) scale(0.93,1)" text-anchor="middle" font-size="13.9">1000</text>
<text transform="translate(421.70,375.10) scale(0.93,1)" text-anchor="middle" font-size="13.9">800</text>
<text transform="translate(479.20,375.10) scale(0.93,1)" text-anchor="middle" font-size="13.9">600</text>
<text transform="translate(536.70,375.10) scale(0.93,1)" text-anchor="middle" font-size="13.9">400</text>
<path d="M91,267.00H127" stroke="#7a7a7a" stroke-width="1.1"/>
<text x="132.0" y="272.20" font-size="15.4" textLength="44.8">AK-0Y</text>
<path d="M91,287.00H127" stroke="#cf9494" stroke-width="1.1"/>
<text x="132.0" y="292.10" font-size="15.4" textLength="44.8">AK-3Y</text>
<path d="M91,307.00H127" stroke="#8a8ab8" stroke-width="1.1"/>
<text x="132.0" y="312.00" font-size="15.4" textLength="44.8">AK-5Y</text>
<path d="M91,327.00H127" stroke="#96c6be" stroke-width="1.1"/>
<text x="132.0" y="331.90" font-size="15.4" textLength="55.0">AK-12Y</text>
<text x="236.6" y="403.6" font-size="16.45">wavenumber (cm</text><text x="363.2" y="396.8" font-size="8">-1</text><text x="371.4" y="403.6" font-size="16.45">)</text>
<text transform="translate(18.6,186) rotate(-90)" text-anchor="middle" font-size="16.2">Transmittance (a.u.)</text>
</svg>
</body></html>
